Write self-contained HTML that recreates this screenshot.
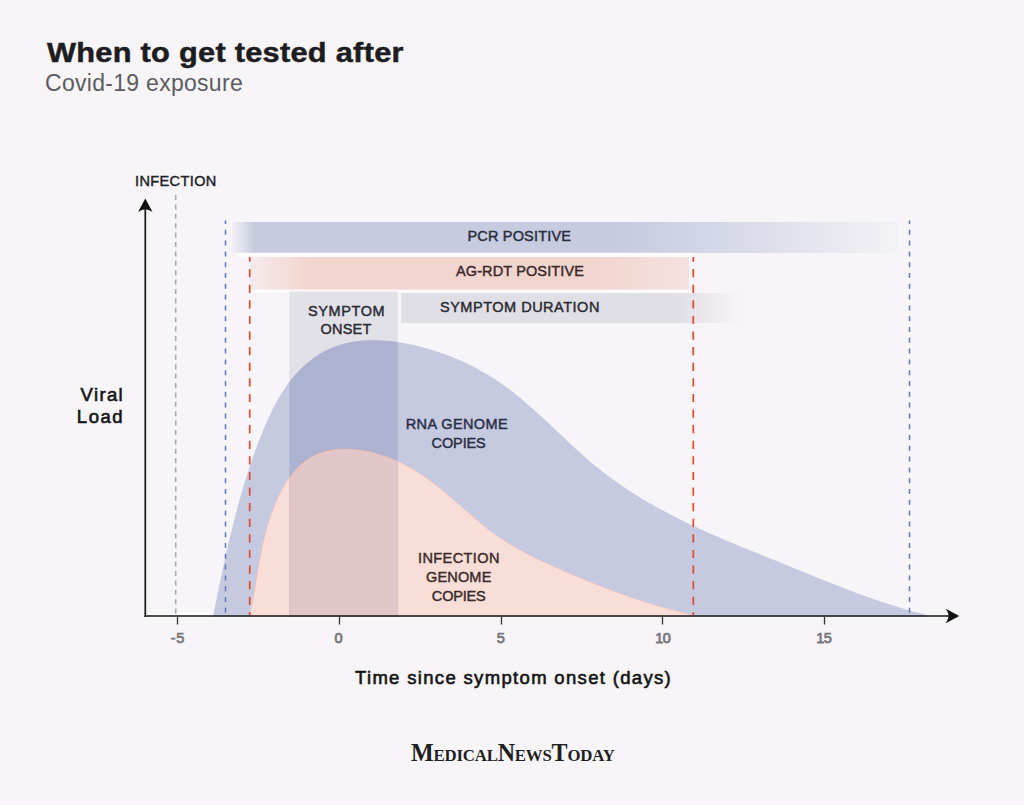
<!DOCTYPE html>
<html><head><meta charset="utf-8">
<style>
html,body{margin:0;padding:0;}
body{width:1024px;height:805px;background:#f7f5f8;position:relative;overflow:hidden;font-family:"Liberation Sans",sans-serif;}
.t{position:absolute;white-space:nowrap;line-height:1;}
.lab{font-size:14.5px;font-weight:normal;}
svg{position:absolute;left:0;top:0;}
</style></head><body>
<svg width="1024" height="805" viewBox="0 0 1024 805">
  <defs>
    <linearGradient id="pcrG" gradientUnits="userSpaceOnUse" x1="232" x2="898" y1="0" y2="0">
      <stop offset="0" stop-color="#c6cbe0" stop-opacity="0.12"/>
      <stop offset="0.035" stop-color="#c6cbe0" stop-opacity="1"/>
      <stop offset="0.58" stop-color="#c6cbe0" stop-opacity="1"/>
      <stop offset="0.8" stop-color="#c6cbe0" stop-opacity="0.55"/>
      <stop offset="1" stop-color="#c6cbe0" stop-opacity="0.06"/>
    </linearGradient>
    <linearGradient id="agG" gradientUnits="userSpaceOnUse" x1="250.5" x2="689" y1="0" y2="0">
      <stop offset="0" stop-color="#f3d5d0" stop-opacity="0.3"/>
      <stop offset="0.13" stop-color="#f3d5d0" stop-opacity="1"/>
      <stop offset="0.8" stop-color="#f3d5d0" stop-opacity="1"/>
      <stop offset="1" stop-color="#f3d5d0" stop-opacity="0.6"/>
    </linearGradient>
    <linearGradient id="sdG" gradientUnits="userSpaceOnUse" x1="401" x2="740" y1="0" y2="0">
      <stop offset="0" stop-color="#e1dfe6" stop-opacity="1"/>
      <stop offset="0.82" stop-color="#e1dfe6" stop-opacity="1"/>
      <stop offset="1" stop-color="#e1dfe6" stop-opacity="0"/>
    </linearGradient>
  </defs>
  <!-- bars -->
  <rect x="232" y="222" width="666" height="31" fill="url(#pcrG)"/>
  <rect x="236" y="252.8" width="455" height="4" fill="#fdfcfd"/>
  <rect x="252" y="289.5" width="440" height="3.5" fill="#fdfcfd"/>
  <rect x="250.5" y="257" width="438.5" height="32.5" fill="url(#agG)"/>
  <rect x="401.2" y="293" width="339" height="30" fill="url(#sdG)"/>
  <!-- curves -->
  <clipPath id="col"><rect x="289.3" y="291.5" width="108.4" height="325.5"/></clipPath>
  <rect x="289.3" y="291.5" width="108.4" height="325" fill="#e3e1e8"/>
  <path d="M213.05,616.50 L213.05,615.52 L213.82,611.82 L214.58,608.12 L215.35,604.42 L216.11,600.72 L216.88,597.03 L217.65,593.35 L218.42,589.66 L219.19,585.98 L219.96,582.30 L220.74,578.63 L221.52,574.96 L222.31,571.29 L223.10,567.62 L223.90,563.96 L224.70,560.31 L225.52,556.65 L226.33,553.00 L227.16,549.35 L228.00,545.71 L228.84,542.06 L229.70,538.43 L230.56,534.79 L231.44,531.16 L232.33,527.53 L233.23,523.90 L234.14,520.28 L235.07,516.66 L236.01,513.04 L236.97,509.43 L237.94,505.82 L238.93,502.21 L239.93,498.61 L240.96,495.01 L241.99,491.41 L243.05,487.82 L244.13,484.23 L245.22,480.64 L246.34,477.06 L247.48,473.47 L248.63,469.89 L249.81,466.32 L251.01,462.75 L252.24,459.18 L253.49,455.61 L254.76,452.05 L256.06,448.49 L257.38,444.93 L258.73,441.38 L260.11,437.83 L261.51,434.28 L262.94,430.73 L264.41,427.20 L265.91,423.68 L267.45,420.17 L269.03,416.69 L270.66,413.23 L272.34,409.79 L274.07,406.39 L275.86,403.03 L277.70,399.70 L279.62,396.42 L281.59,393.19 L283.64,390.01 L285.77,386.88 L287.96,383.81 L290.25,380.81 L292.61,377.87 L295.06,375.01 L297.58,372.23 L300.19,369.53 L302.87,366.92 L305.63,364.41 L308.46,362.00 L311.36,359.70 L314.34,357.51 L317.38,355.45 L320.48,353.51 L323.65,351.70 L326.88,350.03 L330.17,348.51 L333.51,347.12 L336.91,345.88 L340.36,344.77 L343.86,343.79 L347.40,342.94 L350.98,342.21 L354.59,341.60 L358.24,341.11 L361.92,340.73 L365.63,340.46 L369.36,340.30 L373.11,340.24 L376.88,340.28 L380.67,340.42 L384.46,340.64 L388.26,340.96 L392.07,341.35 L395.87,341.83 L399.68,342.39 L403.47,343.02 L407.26,343.72 L411.04,344.49 L414.80,345.32 L418.54,346.21 L422.26,347.15 L425.96,348.15 L429.63,349.20 L433.28,350.30 L436.90,351.46 L440.49,352.67 L444.06,353.93 L447.61,355.24 L451.13,356.61 L454.62,358.02 L458.08,359.48 L461.52,361.00 L464.93,362.56 L468.31,364.18 L471.66,365.84 L474.99,367.56 L478.28,369.32 L481.55,371.13 L484.78,372.99 L487.99,374.89 L491.17,376.85 L494.31,378.85 L497.43,380.90 L500.51,382.99 L503.57,385.13 L506.59,387.32 L509.58,389.55 L512.54,391.82 L515.48,394.12 L518.39,396.47 L521.28,398.84 L524.15,401.25 L527.00,403.69 L529.83,406.15 L532.65,408.64 L535.45,411.15 L538.23,413.68 L541.01,416.23 L543.78,418.79 L546.53,421.36 L549.29,423.94 L552.03,426.53 L554.78,429.12 L557.52,431.72 L560.27,434.32 L563.02,436.91 L565.77,439.50 L568.52,442.09 L571.29,444.66 L574.06,447.22 L576.84,449.77 L579.64,452.31 L582.44,454.82 L585.27,457.31 L588.11,459.78 L590.97,462.22 L593.85,464.64 L596.76,467.02 L599.68,469.37 L602.63,471.70 L605.61,473.98 L608.60,476.24 L611.61,478.47 L614.65,480.67 L617.71,482.84 L620.78,484.98 L623.88,487.09 L626.99,489.17 L630.12,491.23 L633.27,493.25 L636.44,495.25 L639.62,497.23 L642.82,499.17 L646.04,501.09 L649.27,502.99 L652.52,504.86 L655.78,506.70 L659.06,508.52 L662.35,510.32 L665.65,512.09 L668.97,513.84 L672.29,515.57 L675.63,517.27 L678.98,518.96 L682.35,520.62 L685.72,522.26 L689.10,523.88 L692.49,525.49 L695.89,527.07 L699.30,528.64 L702.72,530.19 L706.14,531.73 L709.57,533.26 L713.01,534.77 L716.46,536.27 L719.91,537.75 L723.37,539.23 L726.83,540.69 L730.30,542.15 L733.77,543.60 L737.24,545.04 L740.72,546.47 L744.20,547.90 L747.69,549.32 L751.17,550.74 L754.66,552.16 L758.15,553.57 L761.64,554.98 L765.13,556.39 L768.62,557.80 L772.10,559.21 L775.59,560.62 L779.08,562.04 L782.56,563.46 L786.05,564.88 L789.53,566.30 L793.01,567.72 L796.49,569.15 L799.97,570.57 L803.45,572.00 L806.93,573.42 L810.41,574.83 L813.89,576.25 L817.38,577.66 L820.86,579.07 L824.35,580.47 L827.83,581.86 L831.33,583.25 L834.82,584.62 L838.31,585.99 L841.81,587.35 L845.32,588.70 L848.83,590.04 L852.34,591.37 L855.85,592.68 L859.37,593.99 L862.90,595.27 L866.43,596.55 L869.97,597.80 L873.51,599.04 L877.06,600.27 L880.62,601.47 L884.18,602.66 L887.75,603.83 L891.33,604.98 L894.92,606.10 L898.51,607.21 L902.11,608.29 L905.73,609.35 L909.35,610.39 L912.98,611.40 L916.62,612.39 L920.27,613.35 L923.93,614.28 L927.60,615.19 L927.60,616.50 Z" fill="#c5cae0"/>
  <path d="M249.60,616.50 L249.60,615.65 L250.11,613.25 L250.60,610.86 L251.07,608.49 L251.53,606.13 L251.98,603.78 L252.42,601.45 L252.84,599.13 L253.26,596.82 L253.66,594.52 L254.06,592.23 L254.45,589.95 L254.84,587.68 L255.22,585.41 L255.60,583.15 L255.98,580.90 L256.35,578.66 L256.73,576.42 L257.11,574.19 L257.49,571.95 L257.87,569.73 L258.26,567.50 L258.65,565.28 L259.05,563.05 L259.45,560.83 L259.87,558.61 L260.29,556.38 L260.72,554.16 L261.17,551.93 L261.63,549.70 L262.10,547.46 L262.59,545.22 L263.10,542.98 L263.62,540.73 L264.16,538.47 L264.72,536.21 L265.29,533.94 L265.90,531.66 L266.52,529.37 L267.17,527.07 L267.84,524.76 L268.53,522.45 L269.25,520.14 L270.00,517.83 L270.77,515.52 L271.57,513.22 L272.40,510.92 L273.25,508.63 L274.13,506.36 L275.04,504.09 L275.98,501.84 L276.95,499.62 L277.95,497.41 L278.99,495.22 L280.05,493.06 L281.15,490.92 L282.28,488.81 L283.44,486.74 L284.63,484.69 L285.86,482.69 L287.13,480.72 L288.43,478.79 L289.77,476.90 L291.14,475.06 L292.55,473.27 L294.00,471.52 L295.49,469.83 L297.01,468.19 L298.58,466.60 L300.18,465.07 L301.83,463.60 L303.52,462.20 L305.24,460.86 L307.01,459.58 L308.83,458.38 L310.68,457.24 L312.58,456.18 L314.53,455.20 L316.52,454.29 L318.55,453.46 L320.62,452.70 L322.73,452.02 L324.87,451.41 L327.05,450.87 L329.26,450.40 L331.50,450.00 L333.76,449.66 L336.05,449.39 L338.36,449.19 L340.68,449.04 L343.02,448.96 L345.38,448.93 L347.75,448.97 L350.12,449.06 L352.51,449.20 L354.89,449.40 L357.28,449.65 L359.67,449.95 L362.05,450.29 L364.43,450.69 L366.80,451.13 L369.15,451.62 L371.50,452.15 L373.83,452.72 L376.14,453.33 L378.44,453.98 L380.71,454.66 L382.95,455.38 L385.18,456.14 L387.39,456.94 L389.58,457.77 L391.74,458.63 L393.89,459.52 L396.02,460.45 L398.13,461.41 L400.22,462.39 L402.30,463.41 L404.35,464.46 L406.40,465.54 L408.42,466.64 L410.43,467.77 L412.42,468.93 L414.40,470.11 L416.36,471.31 L418.31,472.54 L420.24,473.80 L422.16,475.07 L424.07,476.37 L425.96,477.69 L427.84,479.03 L429.71,480.38 L431.57,481.76 L433.42,483.15 L435.26,484.56 L437.08,485.99 L438.90,487.43 L440.71,488.89 L442.51,490.36 L444.30,491.84 L446.09,493.33 L447.87,494.83 L449.64,496.35 L451.41,497.86 L453.18,499.39 L454.94,500.92 L456.70,502.46 L458.45,503.99 L460.21,505.53 L461.97,507.08 L463.72,508.62 L465.48,510.16 L467.24,511.70 L469.00,513.23 L470.76,514.76 L472.53,516.29 L474.30,517.81 L476.08,519.32 L477.86,520.82 L479.65,522.31 L481.45,523.79 L483.25,525.26 L485.06,526.72 L486.89,528.16 L488.72,529.59 L490.56,531.00 L492.42,532.39 L494.28,533.76 L496.16,535.12 L498.05,536.45 L499.96,537.76 L501.88,539.05 L503.81,540.32 L505.76,541.57 L507.72,542.81 L509.69,544.02 L511.67,545.21 L513.66,546.39 L515.66,547.55 L517.68,548.69 L519.70,549.82 L521.73,550.93 L523.78,552.03 L525.83,553.11 L527.89,554.18 L529.95,555.24 L532.03,556.28 L534.11,557.32 L536.20,558.34 L538.29,559.35 L540.39,560.35 L542.50,561.34 L544.61,562.33 L546.73,563.30 L548.85,564.27 L550.97,565.23 L553.10,566.18 L555.23,567.13 L557.36,568.08 L559.49,569.01 L561.63,569.95 L563.77,570.88 L565.91,571.81 L568.05,572.73 L570.19,573.65 L572.33,574.56 L574.48,575.47 L576.63,576.37 L578.78,577.27 L580.93,578.17 L583.08,579.06 L585.24,579.95 L587.39,580.83 L589.55,581.70 L591.71,582.57 L593.87,583.44 L596.04,584.30 L598.20,585.15 L600.37,586.00 L602.54,586.84 L604.71,587.68 L606.88,588.51 L609.06,589.34 L611.24,590.16 L613.42,590.97 L615.60,591.77 L617.78,592.57 L619.97,593.37 L622.16,594.15 L624.35,594.93 L626.54,595.70 L628.74,596.47 L630.93,597.23 L633.13,597.98 L635.33,598.72 L637.54,599.46 L639.74,600.19 L641.95,600.91 L644.16,601.62 L646.38,602.33 L648.59,603.03 L650.81,603.72 L653.03,604.40 L655.26,605.07 L657.48,605.74 L659.71,606.39 L661.94,607.04 L664.18,607.68 L666.42,608.31 L668.65,608.93 L670.90,609.54 L673.14,610.15 L675.39,610.74 L677.64,611.32 L679.89,611.90 L682.15,612.46 L684.41,613.02 L686.67,613.57 L688.93,614.10 L691.20,614.63 L693.47,615.15 L693.47,616.50 Z" fill="#f9ddd7" stroke="#f2b9b0" stroke-width="0.8" stroke-opacity="0.7"/>
  <g clip-path="url(#col)">
    <path d="M213.05,616.50 L213.05,615.52 L213.82,611.82 L214.58,608.12 L215.35,604.42 L216.11,600.72 L216.88,597.03 L217.65,593.35 L218.42,589.66 L219.19,585.98 L219.96,582.30 L220.74,578.63 L221.52,574.96 L222.31,571.29 L223.10,567.62 L223.90,563.96 L224.70,560.31 L225.52,556.65 L226.33,553.00 L227.16,549.35 L228.00,545.71 L228.84,542.06 L229.70,538.43 L230.56,534.79 L231.44,531.16 L232.33,527.53 L233.23,523.90 L234.14,520.28 L235.07,516.66 L236.01,513.04 L236.97,509.43 L237.94,505.82 L238.93,502.21 L239.93,498.61 L240.96,495.01 L241.99,491.41 L243.05,487.82 L244.13,484.23 L245.22,480.64 L246.34,477.06 L247.48,473.47 L248.63,469.89 L249.81,466.32 L251.01,462.75 L252.24,459.18 L253.49,455.61 L254.76,452.05 L256.06,448.49 L257.38,444.93 L258.73,441.38 L260.11,437.83 L261.51,434.28 L262.94,430.73 L264.41,427.20 L265.91,423.68 L267.45,420.17 L269.03,416.69 L270.66,413.23 L272.34,409.79 L274.07,406.39 L275.86,403.03 L277.70,399.70 L279.62,396.42 L281.59,393.19 L283.64,390.01 L285.77,386.88 L287.96,383.81 L290.25,380.81 L292.61,377.87 L295.06,375.01 L297.58,372.23 L300.19,369.53 L302.87,366.92 L305.63,364.41 L308.46,362.00 L311.36,359.70 L314.34,357.51 L317.38,355.45 L320.48,353.51 L323.65,351.70 L326.88,350.03 L330.17,348.51 L333.51,347.12 L336.91,345.88 L340.36,344.77 L343.86,343.79 L347.40,342.94 L350.98,342.21 L354.59,341.60 L358.24,341.11 L361.92,340.73 L365.63,340.46 L369.36,340.30 L373.11,340.24 L376.88,340.28 L380.67,340.42 L384.46,340.64 L388.26,340.96 L392.07,341.35 L395.87,341.83 L399.68,342.39 L403.47,343.02 L407.26,343.72 L411.04,344.49 L414.80,345.32 L418.54,346.21 L422.26,347.15 L425.96,348.15 L429.63,349.20 L433.28,350.30 L436.90,351.46 L440.49,352.67 L444.06,353.93 L447.61,355.24 L451.13,356.61 L454.62,358.02 L458.08,359.48 L461.52,361.00 L464.93,362.56 L468.31,364.18 L471.66,365.84 L474.99,367.56 L478.28,369.32 L481.55,371.13 L484.78,372.99 L487.99,374.89 L491.17,376.85 L494.31,378.85 L497.43,380.90 L500.51,382.99 L503.57,385.13 L506.59,387.32 L509.58,389.55 L512.54,391.82 L515.48,394.12 L518.39,396.47 L521.28,398.84 L524.15,401.25 L527.00,403.69 L529.83,406.15 L532.65,408.64 L535.45,411.15 L538.23,413.68 L541.01,416.23 L543.78,418.79 L546.53,421.36 L549.29,423.94 L552.03,426.53 L554.78,429.12 L557.52,431.72 L560.27,434.32 L563.02,436.91 L565.77,439.50 L568.52,442.09 L571.29,444.66 L574.06,447.22 L576.84,449.77 L579.64,452.31 L582.44,454.82 L585.27,457.31 L588.11,459.78 L590.97,462.22 L593.85,464.64 L596.76,467.02 L599.68,469.37 L602.63,471.70 L605.61,473.98 L608.60,476.24 L611.61,478.47 L614.65,480.67 L617.71,482.84 L620.78,484.98 L623.88,487.09 L626.99,489.17 L630.12,491.23 L633.27,493.25 L636.44,495.25 L639.62,497.23 L642.82,499.17 L646.04,501.09 L649.27,502.99 L652.52,504.86 L655.78,506.70 L659.06,508.52 L662.35,510.32 L665.65,512.09 L668.97,513.84 L672.29,515.57 L675.63,517.27 L678.98,518.96 L682.35,520.62 L685.72,522.26 L689.10,523.88 L692.49,525.49 L695.89,527.07 L699.30,528.64 L702.72,530.19 L706.14,531.73 L709.57,533.26 L713.01,534.77 L716.46,536.27 L719.91,537.75 L723.37,539.23 L726.83,540.69 L730.30,542.15 L733.77,543.60 L737.24,545.04 L740.72,546.47 L744.20,547.90 L747.69,549.32 L751.17,550.74 L754.66,552.16 L758.15,553.57 L761.64,554.98 L765.13,556.39 L768.62,557.80 L772.10,559.21 L775.59,560.62 L779.08,562.04 L782.56,563.46 L786.05,564.88 L789.53,566.30 L793.01,567.72 L796.49,569.15 L799.97,570.57 L803.45,572.00 L806.93,573.42 L810.41,574.83 L813.89,576.25 L817.38,577.66 L820.86,579.07 L824.35,580.47 L827.83,581.86 L831.33,583.25 L834.82,584.62 L838.31,585.99 L841.81,587.35 L845.32,588.70 L848.83,590.04 L852.34,591.37 L855.85,592.68 L859.37,593.99 L862.90,595.27 L866.43,596.55 L869.97,597.80 L873.51,599.04 L877.06,600.27 L880.62,601.47 L884.18,602.66 L887.75,603.83 L891.33,604.98 L894.92,606.10 L898.51,607.21 L902.11,608.29 L905.73,609.35 L909.35,610.39 L912.98,611.40 L916.62,612.39 L920.27,613.35 L923.93,614.28 L927.60,615.19 L927.60,616.50 Z" fill="#acb2cf"/>
    <path d="M249.60,616.50 L249.60,615.65 L250.11,613.25 L250.60,610.86 L251.07,608.49 L251.53,606.13 L251.98,603.78 L252.42,601.45 L252.84,599.13 L253.26,596.82 L253.66,594.52 L254.06,592.23 L254.45,589.95 L254.84,587.68 L255.22,585.41 L255.60,583.15 L255.98,580.90 L256.35,578.66 L256.73,576.42 L257.11,574.19 L257.49,571.95 L257.87,569.73 L258.26,567.50 L258.65,565.28 L259.05,563.05 L259.45,560.83 L259.87,558.61 L260.29,556.38 L260.72,554.16 L261.17,551.93 L261.63,549.70 L262.10,547.46 L262.59,545.22 L263.10,542.98 L263.62,540.73 L264.16,538.47 L264.72,536.21 L265.29,533.94 L265.90,531.66 L266.52,529.37 L267.17,527.07 L267.84,524.76 L268.53,522.45 L269.25,520.14 L270.00,517.83 L270.77,515.52 L271.57,513.22 L272.40,510.92 L273.25,508.63 L274.13,506.36 L275.04,504.09 L275.98,501.84 L276.95,499.62 L277.95,497.41 L278.99,495.22 L280.05,493.06 L281.15,490.92 L282.28,488.81 L283.44,486.74 L284.63,484.69 L285.86,482.69 L287.13,480.72 L288.43,478.79 L289.77,476.90 L291.14,475.06 L292.55,473.27 L294.00,471.52 L295.49,469.83 L297.01,468.19 L298.58,466.60 L300.18,465.07 L301.83,463.60 L303.52,462.20 L305.24,460.86 L307.01,459.58 L308.83,458.38 L310.68,457.24 L312.58,456.18 L314.53,455.20 L316.52,454.29 L318.55,453.46 L320.62,452.70 L322.73,452.02 L324.87,451.41 L327.05,450.87 L329.26,450.40 L331.50,450.00 L333.76,449.66 L336.05,449.39 L338.36,449.19 L340.68,449.04 L343.02,448.96 L345.38,448.93 L347.75,448.97 L350.12,449.06 L352.51,449.20 L354.89,449.40 L357.28,449.65 L359.67,449.95 L362.05,450.29 L364.43,450.69 L366.80,451.13 L369.15,451.62 L371.50,452.15 L373.83,452.72 L376.14,453.33 L378.44,453.98 L380.71,454.66 L382.95,455.38 L385.18,456.14 L387.39,456.94 L389.58,457.77 L391.74,458.63 L393.89,459.52 L396.02,460.45 L398.13,461.41 L400.22,462.39 L402.30,463.41 L404.35,464.46 L406.40,465.54 L408.42,466.64 L410.43,467.77 L412.42,468.93 L414.40,470.11 L416.36,471.31 L418.31,472.54 L420.24,473.80 L422.16,475.07 L424.07,476.37 L425.96,477.69 L427.84,479.03 L429.71,480.38 L431.57,481.76 L433.42,483.15 L435.26,484.56 L437.08,485.99 L438.90,487.43 L440.71,488.89 L442.51,490.36 L444.30,491.84 L446.09,493.33 L447.87,494.83 L449.64,496.35 L451.41,497.86 L453.18,499.39 L454.94,500.92 L456.70,502.46 L458.45,503.99 L460.21,505.53 L461.97,507.08 L463.72,508.62 L465.48,510.16 L467.24,511.70 L469.00,513.23 L470.76,514.76 L472.53,516.29 L474.30,517.81 L476.08,519.32 L477.86,520.82 L479.65,522.31 L481.45,523.79 L483.25,525.26 L485.06,526.72 L486.89,528.16 L488.72,529.59 L490.56,531.00 L492.42,532.39 L494.28,533.76 L496.16,535.12 L498.05,536.45 L499.96,537.76 L501.88,539.05 L503.81,540.32 L505.76,541.57 L507.72,542.81 L509.69,544.02 L511.67,545.21 L513.66,546.39 L515.66,547.55 L517.68,548.69 L519.70,549.82 L521.73,550.93 L523.78,552.03 L525.83,553.11 L527.89,554.18 L529.95,555.24 L532.03,556.28 L534.11,557.32 L536.20,558.34 L538.29,559.35 L540.39,560.35 L542.50,561.34 L544.61,562.33 L546.73,563.30 L548.85,564.27 L550.97,565.23 L553.10,566.18 L555.23,567.13 L557.36,568.08 L559.49,569.01 L561.63,569.95 L563.77,570.88 L565.91,571.81 L568.05,572.73 L570.19,573.65 L572.33,574.56 L574.48,575.47 L576.63,576.37 L578.78,577.27 L580.93,578.17 L583.08,579.06 L585.24,579.95 L587.39,580.83 L589.55,581.70 L591.71,582.57 L593.87,583.44 L596.04,584.30 L598.20,585.15 L600.37,586.00 L602.54,586.84 L604.71,587.68 L606.88,588.51 L609.06,589.34 L611.24,590.16 L613.42,590.97 L615.60,591.77 L617.78,592.57 L619.97,593.37 L622.16,594.15 L624.35,594.93 L626.54,595.70 L628.74,596.47 L630.93,597.23 L633.13,597.98 L635.33,598.72 L637.54,599.46 L639.74,600.19 L641.95,600.91 L644.16,601.62 L646.38,602.33 L648.59,603.03 L650.81,603.72 L653.03,604.40 L655.26,605.07 L657.48,605.74 L659.71,606.39 L661.94,607.04 L664.18,607.68 L666.42,608.31 L668.65,608.93 L670.90,609.54 L673.14,610.15 L675.39,610.74 L677.64,611.32 L679.89,611.90 L682.15,612.46 L684.41,613.02 L686.67,613.57 L688.93,614.10 L691.20,614.63 L693.47,615.15 L693.47,616.50 Z" fill="#e2c6c8" stroke="#e5b0ac" stroke-width="0.8" stroke-opacity="0.7"/>
  </g>
  <rect x="177" y="612" width="32" height="3" fill="#fdfcfd"/>
  <!-- dashed lines -->
  <line x1="175.7" y1="195" x2="175.7" y2="615" stroke="#a9a8ac" stroke-width="1.6" stroke-dasharray="5,4.4"/>
  <line x1="225.5" y1="220.5" x2="225.5" y2="615" stroke="#6277ba" stroke-width="1.5" stroke-dasharray="5,5.8" stroke-dashoffset="1.5"/>
  <line x1="909.5" y1="220.5" x2="909.5" y2="615" stroke="#6277ba" stroke-width="1.5" stroke-dasharray="5,5.8" stroke-dashoffset="1.5"/>
  <line x1="249.7" y1="256.9" x2="249.7" y2="615" stroke="#e0482c" stroke-width="1.7" stroke-dasharray="8.2,7.4" stroke-dashoffset="3.4"/>
  <line x1="693.3" y1="256.9" x2="693.3" y2="615" stroke="#e0482c" stroke-width="1.7" stroke-dasharray="8.2,7.4" stroke-dashoffset="3.4"/>
  <!-- axes -->
  <line x1="145.3" y1="208" x2="145.3" y2="616.9" stroke="#161616" stroke-width="1.7"/>
  <path d="M145.3,198.6 L152.5,212 Q148.5,209.3 145.3,209.2 Q142.1,209.3 138.1,212 Z" fill="#111"/>
  <line x1="144.4" y1="616" x2="950" y2="616" stroke="#161616" stroke-width="1.7"/>
  <path d="M959.2,616 L945.8,608.8 Q948.5,612.8 948.6,616 Q948.5,619.2 945.8,623.3 Z" fill="#111"/>
  <!-- ticks -->
  <g stroke="#333" stroke-width="1.3">
    <line x1="177.5" y1="617" x2="177.5" y2="624.5"/>
    <line x1="339.5" y1="617" x2="339.5" y2="624.5"/>
    <line x1="501.5" y1="617" x2="501.5" y2="624.5"/>
    <line x1="662.5" y1="617" x2="662.5" y2="624.5"/>
    <line x1="824.5" y1="617" x2="824.5" y2="624.5"/>
  </g>
</svg>
<div class="t" id="title" style="left:47px;top:38.8px;font-size:28px;font-weight:bold;color:#1d1c20;letter-spacing:0.25px;transform:scaleX(1.098);transform-origin:0 0;-webkit-text-stroke:0.5px #1d1c20;">When to get tested after</div>
<div class="t" id="sub" style="left:45px;top:71.5px;font-size:23px;color:#5d5c61;letter-spacing:0.29px;">Covid-19 exposure</div>
<div class="t lab" id="inf" style="left:135.00px;top:174.14px;letter-spacing:0.399px;color:#222226;-webkit-text-stroke:0.45px #222226;">INFECTION</div>
<div class="t lab" id="pcr" style="left:467.44px;top:228.86px;letter-spacing:0.177px;color:#2b2d3a;-webkit-text-stroke:0.45px #2b2d3a;">PCR POSITIVE</div>
<div class="t lab" id="ag" style="left:455.98px;top:264.00px;letter-spacing:0.120px;color:#3a2a2a;-webkit-text-stroke:0.45px #3a2a2a;">AG-RDT POSITIVE</div>
<div class="t lab" id="sd" style="left:440.00px;top:300.00px;letter-spacing:0.509px;color:#2b2b33;-webkit-text-stroke:0.45px #2b2b33;">SYMPTOM DURATION</div>
<div class="t lab" id="so1" style="left:308.00px;top:303.70px;letter-spacing:0.591px;color:#2b2b33;-webkit-text-stroke:0.45px #2b2b33;">SYMPTOM</div>
<div class="t lab" id="so2" style="left:320.56px;top:322.00px;letter-spacing:0.202px;color:#2b2b33;-webkit-text-stroke:0.45px #2b2b33;">ONSET</div>
<div class="t lab" id="rna1" style="left:405.70px;top:417.00px;letter-spacing:0.416px;color:#2a2e45;-webkit-text-stroke:0.45px #2a2e45;">RNA GENOME</div>
<div class="t lab" id="rna2" style="left:431.56px;top:436.00px;letter-spacing:-0.112px;color:#2a2e45;-webkit-text-stroke:0.45px #2a2e45;">COPIES</div>
<div class="t lab" id="ig1" style="left:418.00px;top:550.56px;letter-spacing:0.415px;color:#3a2b2b;-webkit-text-stroke:0.45px #3a2b2b;">INFECTION</div>
<div class="t lab" id="ig2" style="left:425.98px;top:569.70px;letter-spacing:0.176px;color:#3a2b2b;-webkit-text-stroke:0.45px #3a2b2b;">GENOME</div>
<div class="t lab" id="ig3" style="left:431.84px;top:588.70px;letter-spacing:-0.168px;color:#3a2b2b;-webkit-text-stroke:0.45px #3a2b2b;">COPIES</div>
<div class="t lab" id="tm5" style="left:170.84px;top:631.44px;letter-spacing:0.520px;color:#78777b;-webkit-text-stroke:0.75px #78777b;">-5</div>
<div class="t lab" id="t0" style="left:334.44px;top:631.44px;letter-spacing:0.000px;color:#78777b;-webkit-text-stroke:0.75px #78777b;">0</div>
<div class="t lab" id="t5" style="left:496.72px;top:631.44px;letter-spacing:0.000px;color:#78777b;-webkit-text-stroke:0.75px #78777b;">5</div>
<div class="t lab" id="t10" style="left:655.28px;top:631.30px;letter-spacing:-0.580px;color:#78777b;-webkit-text-stroke:0.75px #78777b;">10</div>
<div class="t lab" id="t15" style="left:816.14px;top:631.44px;letter-spacing:-0.440px;color:#78777b;-webkit-text-stroke:0.75px #78777b;">15</div>
<div class="t" id="vl" style="right:900px;top:383.8px;font-size:18.5px;letter-spacing:1.5px;font-weight:normal;-webkit-text-stroke:0.6px #141414;color:#141414;text-align:right;line-height:22px;"><span style="letter-spacing:1.35px">Viral</span><br>Load</div>
<div class="t" id="xt" style="left:355px;top:668.5px;font-size:18.5px;letter-spacing:1.33px;font-weight:normal;-webkit-text-stroke:0.6px #141414;color:#141414;">Time since symptom onset (days)</div>
<div class="t" id="logo" style="left:411px;top:739.5px;font-family:'Liberation Serif',serif;font-weight:bold;color:#1e1e1e;font-size:25px;letter-spacing:-0.2px;transform:scaleX(0.96);transform-origin:0 0;"><span>M</span><span style="font-size:17.5px">EDICAL</span><span>N</span><span style="font-size:17.5px">EWS</span><span>T</span><span style="font-size:17.5px">ODAY</span></div>
</body></html>
